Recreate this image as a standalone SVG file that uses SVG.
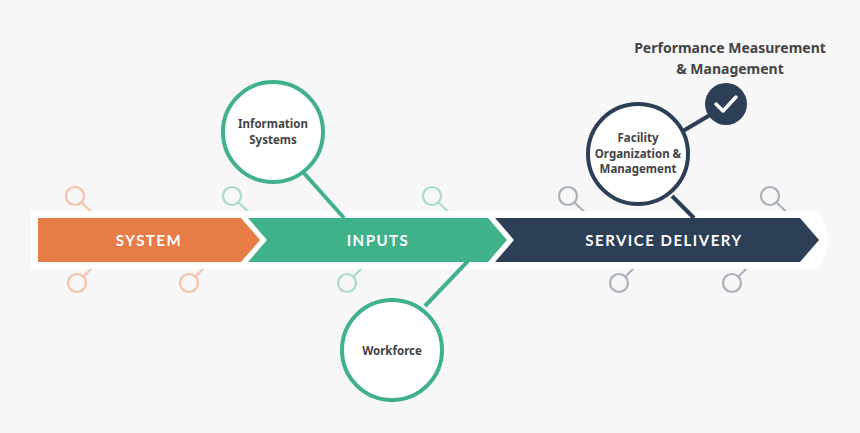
<svg xmlns="http://www.w3.org/2000/svg" width="860" height="433" viewBox="0 0 860 433">
<style>
.sm{fill:#f7f7f7;stroke-width:2.2}
.lbl{font-family:Lato,"Liberation Sans",sans-serif;font-weight:bold;font-size:15px;fill:#fff;letter-spacing:1.5px;text-anchor:middle}
.ct{font-family:"Noto Sans","Liberation Sans",sans-serif;font-weight:bold;font-size:11.5px;fill:#444;text-anchor:middle}
.big{fill:#fff;stroke-width:4}
</style>
<rect width="860" height="433" fill="#f7f7f7"/>
<g id="connectors" stroke-width="2.2" fill="none">
<g stroke="#f2c3a7">
<line x1="81" y1="202" x2="100" y2="220"/><line x1="83" y1="277" x2="102" y2="258"/><line x1="195" y1="277" x2="214" y2="258"/>
</g>
<g stroke="#a9dcc8">
<line x1="238" y1="202" x2="257" y2="220"/><line x1="353" y1="277" x2="372" y2="258"/><line x1="438" y1="202" x2="457" y2="220"/>
</g>
<g stroke="#a9b1bb">
<line x1="574" y1="202" x2="593" y2="220"/><line x1="625" y1="277" x2="644" y2="258"/><line x1="738" y1="277" x2="757" y2="258"/><line x1="776" y1="202" x2="795" y2="220"/>
</g>
</g>
<g id="band">
<polygon points="31,211 820,211 830,240 820,269 31,269" fill="#fff"/>
<polygon points="38,218 241,218 260,240 241,262 38,262" fill="#e77c46"/>
<polygon points="248,218 488,218 507,240 488,262 248,262 267,240" fill="#3fb28a"/>
<polygon points="495,218 800,218 819,240 800,262 495,262 514,240" fill="#2d3e57"/>
<text class="lbl" x="149" y="246">SYSTEM</text>
<text class="lbl" x="378" y="246">INPUTS</text>
<text class="lbl" x="664" y="246">SERVICE DELIVERY</text>
</g>
<g id="small-nodes">
<circle class="sm" cx="75" cy="196" r="9" stroke="#f2c3a7"/>
<circle class="sm" cx="77" cy="283" r="9" stroke="#f2c3a7"/>
<circle class="sm" cx="189" cy="283" r="9" stroke="#f2c3a7"/>
<circle class="sm" cx="232" cy="196" r="9" stroke="#a9dcc8"/>
<circle class="sm" cx="347" cy="283" r="9" stroke="#a9dcc8"/>
<circle class="sm" cx="432" cy="196" r="9" stroke="#a9dcc8"/>
<circle class="sm" cx="568" cy="196" r="9" stroke="#a9b1bb"/>
<circle class="sm" cx="619" cy="283" r="9" stroke="#a9b1bb"/>
<circle class="sm" cx="732" cy="283" r="9" stroke="#a9b1bb"/>
<circle class="sm" cx="770" cy="196" r="9" stroke="#a9b1bb"/>
</g>
<g id="links" stroke-width="4">
<line x1="303" y1="172" x2="344" y2="218" stroke="#3fb28a"/>
<line x1="425" y1="306" x2="490" y2="238" stroke="#3fb28a"/>
<line x1="672" y1="196" x2="694" y2="218" stroke="#2d3e57"/>
<line x1="683" y1="131" x2="710" y2="115" stroke="#2d3e57"/>
</g>
<g id="info-systems">
<circle class="big" cx="273" cy="132" r="50" stroke="#3fb28a"/>
<text class="ct" x="273" y="128">Information</text>
<text class="ct" x="273" y="144">Systems</text>
</g>
<g id="workforce">
<circle class="big" cx="392" cy="350" r="50" stroke="#3fb28a"/>
<text class="ct" x="392" y="355">Workforce</text>
</g>
<g id="facility">
<circle class="big" cx="638" cy="154" r="50" stroke="#2d3e57"/>
<text class="ct" x="638" y="142">Facility</text>
<text class="ct" x="638" y="158">Organization &amp;</text>
<text class="ct" x="638" y="173">Management</text>
</g>
<g id="performance">
<circle cx="726" cy="104" r="21" fill="#2d3e57"/>
<polyline points="716,104 723,111 736,97" fill="none" stroke="#fff" stroke-width="3.5" stroke-linecap="round" stroke-linejoin="round"/>
<text class="ct" style="font-size:14px" x="730" y="53">Performance Measurement</text>
<text class="ct" style="font-size:14px" x="730" y="74">&amp; Management</text>
</g>
</svg>
